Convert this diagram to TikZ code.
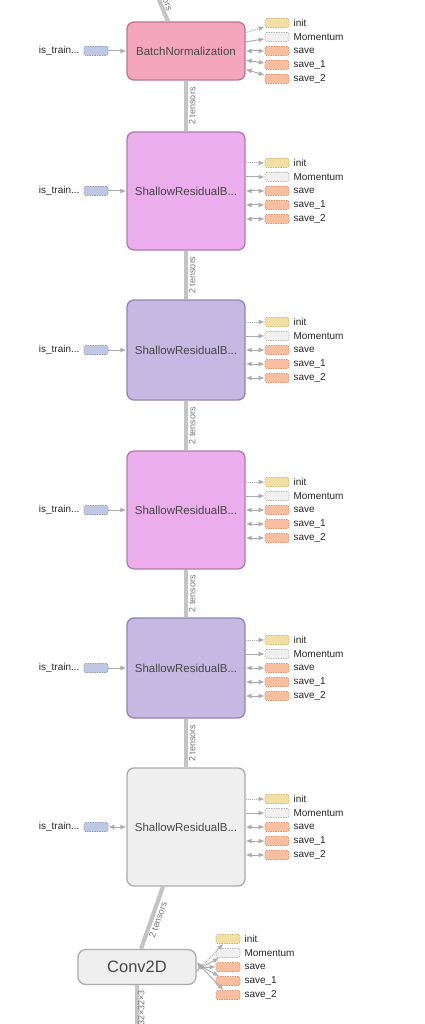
\documentclass[tikz,border=0pt]{standalone}
\usepackage{fontspec}
\setmainfont{Liberation Sans}
\usetikzlibrary{arrows.meta}

\definecolor{bnfill}{HTML}{F4A6BF}
\definecolor{bnline}{HTML}{BE7390}
\definecolor{pinkfill}{HTML}{EBADEB}
\definecolor{pinkline}{HTML}{AE7BAE}
\definecolor{lavfill}{HTML}{C5B9E3}
\definecolor{lavline}{HTML}{9483B3}
\definecolor{grayfill}{HTML}{EFEFEF}
\definecolor{grayline}{HTML}{ABABAB}
\definecolor{initfill}{HTML}{F2DFA6}
\definecolor{initline}{HTML}{D6B46A}
\definecolor{momfill}{HTML}{F0F0F0}
\definecolor{momline}{HTML}{B8B8B8}
\definecolor{savefill}{HTML}{F7BEA0}
\definecolor{saveline}{HTML}{DE9670}
\definecolor{trainfill}{HTML}{BFC8E2}
\definecolor{trainline}{HTML}{8E9AC4}
\definecolor{flowgray}{HTML}{C4C4C4}
\definecolor{linkgray}{HTML}{ABABAB}

\tikzset{
  blockbox/.style={draw=#1, line width=1.3pt, rounded corners=7pt, minimum width=118pt,
    inner sep=0pt, text=black!72, font=\fontsize{11.5}{13}\selectfont},
  tagbox/.style={draw=#1, dash pattern=on 1.5pt off 1pt, line width=0.7pt, rounded corners=1.5pt,
    minimum width=24pt, minimum height=9pt, inner sep=0pt},
  taglbl/.style={anchor=west, inner sep=0pt, font=\fontsize{10}{11}\selectfont, text=black!85},
  flow/.style={draw=flowgray, line width=4.2pt},
  flowlbl/.style={inner sep=1pt, font=\fontsize{9}{10}\selectfont, text=black!55},
  tensorlbl/.style={flowlbl, rotate=90, anchor=north},
  link/.style={draw=linkgray, line width=1pt, -{Latex[length=6pt,width=5pt]}},
  dlink/.style={link, {Latex[length=6pt,width=5pt]}-{Latex[length=6pt,width=5pt]}},
  initlink/.style={link, densely dotted}
}

\begin{document}
\begin{tikzpicture}[x=1pt,y=-1pt]
  \useasboundingbox (0,0) rectangle (424,1024);
  \clip (0,0) rectangle (424,1024);

  % main blocks
  \node[blockbox=bnline, fill=bnfill, minimum height=58pt] (bn) at (186,51) {BatchNormalization};
  \node[blockbox=pinkline, fill=pinkfill, minimum height=118pt] (srb1) at (186,191) {ShallowResidualB...};
  \node[blockbox=lavline, fill=lavfill, minimum height=100pt] (srb2) at (186,350) {ShallowResidualB...};
  \node[blockbox=pinkline, fill=pinkfill, minimum height=118pt] (srb3) at (186,510) {ShallowResidualB...};
  \node[blockbox=lavline, fill=lavfill, minimum height=100pt] (srb4) at (186,668) {ShallowResidualB...};
  \node[blockbox=grayline, fill=grayfill, minimum height=118pt] (srb5) at (186,827) {ShallowResidualB...};
  \node[blockbox=grayline, fill=grayfill, minimum height=35pt, rounded corners=8pt,
    font=\fontsize{16.5}{18}\selectfont] (conv) at (137,967) {Conv2D};

  % tensor flow
  \coordinate (intop) at (154,-12);
  \coordinate (inbot) at (137,1040);
  \draw[flow] (intop) -- node[pos=0.22, sloped, above, flowlbl] (toplbl) {2 tensors} ([xshift=-18pt]bn.north);
  \draw[flow] (bn.south) -- node[tensorlbl] (lbl1) {2 tensors} (srb1.north);
  \draw[flow] (srb1.south) -- node[tensorlbl] (lbl2) {2 tensors} (srb2.north);
  \draw[flow] (srb2.south) -- node[tensorlbl] (lbl3) {2 tensors} (srb3.north);
  \draw[flow] (srb3.south) -- node[tensorlbl] (lbl4) {2 tensors} (srb4.north);
  \draw[flow] (srb4.south) -- node[tensorlbl] (lbl5) {2 tensors} (srb5.north);
  \draw[flow] ([xshift=-23pt]srb5.south) -- node[midway, sloped, below, flowlbl] (lbl6) {2 tensors}
    ([xshift=4pt]conv.north);
  \draw[flow] (conv.south) -- (inbot);
  \node[flowlbl, rotate=90, anchor=north east] (shapelbl) at ([yshift=-4pt]conv.south) {?×32×32×3};

  % side tags
  \foreach \b/\x/\y in {bn/277/51, srb1/277/191, srb2/277/350, srb3/277/510, srb4/277/668,
      srb5/277/827, conv/228/967} {
    \node[tagbox=initline, fill=initfill] (\b-init) at (\x,\y-28) {};
    \node[tagbox=momline, fill=momfill] (\b-mom) at (\x,\y-14) {};
    \node[tagbox=saveline, fill=savefill] (\b-save) at (\x,\y) {};
    \node[tagbox=saveline, fill=savefill] (\b-save1) at (\x,\y+14) {};
    \node[tagbox=saveline, fill=savefill] (\b-save2) at (\x,\y+28) {};
    \node[taglbl] (\b-initlbl) at ([xshift=4pt]\b-init.east) {init};
    \node[taglbl] (\b-momlbl) at ([xshift=4pt]\b-mom.east) {Momentum};
    \node[taglbl] (\b-savelbl) at ([xshift=4pt]\b-save.east) {save};
    \node[taglbl] (\b-save1lbl) at ([xshift=4pt]\b-save1.east) {save\_1};
    \node[taglbl] (\b-save2lbl) at ([xshift=4pt]\b-save2.east) {save\_2};
  }

  % links to tags
  \draw[initlink] (bn) -- (bn-init);
  \draw[link] (bn) -- (bn-mom);
  \draw[dlink] (bn) -- (bn-save);
  \draw[dlink] (bn) -- (bn-save1);
  \draw[dlink] (bn) -- (bn-save2);
  \foreach \b in {srb1,srb2,srb3,srb4,srb5} {
    \draw[initlink] (\b.east |- \b-init) -- (\b-init);
    \draw[link] (\b.east |- \b-mom) -- (\b-mom);
    \draw[dlink] (\b.east |- \b-save) -- (\b-save);
    \draw[dlink] (\b.east |- \b-save1) -- (\b-save1);
    \draw[dlink] (\b.east |- \b-save2) -- (\b-save2);
  }
  \draw[initlink] ([yshift=-5pt]conv.east) -- (conv-init);
  \draw[link] ([yshift=-3pt]conv.east) -- (conv-mom);
  \draw[dlink] (conv.east) -- (conv-save);
  \draw[dlink] ([yshift=3pt]conv.east) -- (conv-save1);
  \draw[dlink] ([yshift=5pt]conv.east) -- (conv-save2);

  % is_training inputs
  \foreach \b in {bn,srb1,srb2,srb3,srb4,srb5} {
    \node[tagbox=trainline, fill=trainfill] (\b-train) at (96,0 |- \b) {};
    \node[anchor=east, inner sep=0pt, font=\fontsize{10}{11}\selectfont, text=black!85]
      (\b-trainlbl) at ([xshift=-4pt]\b-train.west) {is\_train...};
  }
  \foreach \b in {bn,srb1,srb2,srb3,srb4} {
    \draw[link] (\b-train) -- (\b);
  }
  \draw[dlink] (srb5-train) -- (srb5);
\end{tikzpicture}
\end{document}
